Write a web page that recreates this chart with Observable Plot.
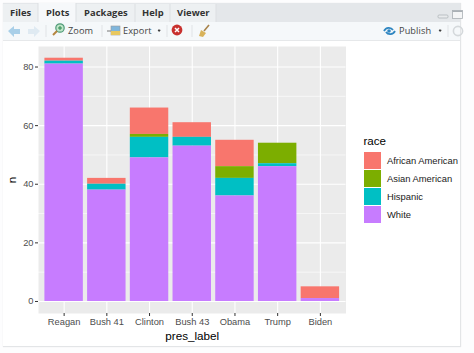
<!DOCTYPE html>
<html><head><meta charset="utf-8">
<script src="https://cdn.jsdelivr.net/npm/d3@7"></script>
<script src="https://cdn.jsdelivr.net/npm/@observablehq/plot@0.6"></script>
<style>
html,body{margin:0;padding:0;background:#fff}
#page{position:relative;width:474px;height:353px;overflow:hidden;font-family:"Liberation Sans",Arial,sans-serif;background:#fdfdfe}
#pane{position:absolute;left:3px;top:3px;width:457px;height:343px;background:#fff;border-right:1px solid #e3e5e7;border-bottom:1px solid #e3e5e7;box-shadow:0 0 1px #e3e5e7}
#chrome{position:absolute;left:0;top:0;width:474px;height:41px}
.t{position:absolute;white-space:nowrap;color:#333;font-family:"Open Sans",sans-serif;line-height:14px}
.b{font-weight:700;font-size:9.4px;letter-spacing:.05px}
.n{font-size:9.2px;font-weight:500;color:#444;letter-spacing:.1px}
#plot{position:absolute;left:0;top:40px}
#legend{position:absolute;left:363.5px;top:133px;color:#000}
#legend .h{font-size:11.6px;line-height:16px;height:18.7px}
#legend .r{display:flex;align-items:center;height:18px;font-size:9.4px;color:#1a1a1a}
#legend .s{width:17px;height:17px;margin-right:6.5px}
</style></head><body>
<div id="page">
<div id="pane"></div>
<svg id="chrome" viewBox="0 0 474 41">
  <rect x="3" y="3" width="457" height="19" fill="#e4e7ea"/>
  <rect x="3" y="4" width="213" height="18" fill="#edf0f2"/>
  <rect x="38" y="3" width="38" height="20" fill="#f6f8fa"/>
  <path d="M38 3V22M76 3V22M135 4V22M170 4V22M216 4V22" stroke="#dcdfe2" stroke-width="1"/>
  <rect x="3" y="22" width="457" height="18" fill="#f5f8fa"/>
  <rect x="3" y="40" width="457" height="1" fill="#e6e8ea"/>
  <path d="M8 31l6-5v3h6v5h-6v3z" fill="#a9cfe8"/>
  <path d="M40 31l-6-5v3h-6v5h6v3z" fill="#dfeaf2"/>
  <path d="M46 25V37M102 25V37M167 25V37M192 25V37M448 25V37" stroke="#e0e3e6"/>
  <circle cx="60" cy="28" r="4.2" fill="#bfe6c8" stroke="#4f9a78" stroke-width="1.2"/>
  <path d="M57 31l-4 4" stroke="#b5853f" stroke-width="2"/>
  <path d="M60 26v4M58 28h4" stroke="#2f8a50"/>
  <path d="M107 31h4" stroke="#777"/>
  <rect x="111" y="26" width="9" height="9" fill="#7fb6dc" stroke="#999" stroke-width=".6"/>
  <rect x="111" y="31" width="9" height="4" fill="#e8c860"/>
  <path d="M158 30l2.2 0-1.1 1.5z" fill="#333" stroke="#333" stroke-width=".8"/>
  <circle cx="177" cy="30" r="5.4" fill="#c8312f"/>
  <path d="M175 28l4 4M179 28l-4 4" stroke="#fff" stroke-width="1.5"/>
  <path d="M209 25l-5 6" stroke="#a8834a" stroke-width="1.6"/>
  <path d="M201 30l5 3-3 4-4-1z" fill="#d9b35a"/>
  <path d="M384 31c2-4 7-4 9-1M395 31c-2 4-7 4-9 1" stroke="#2f86c1" stroke-width="1.8" fill="none"/>
  <circle cx="389" cy="31" r="1.8" fill="#2f86c1"/>
  <path d="M439 30l2.2 0-1.1 1.5z" fill="#333" stroke="#333" stroke-width=".8"/>
  <circle cx="458" cy="31" r="4.6" fill="none" stroke="#d4d8db" stroke-width="1.6"/>
  <rect x="438" y="15" width="10" height="3" rx="1" fill="#e9ebed" stroke="#aab0b5" stroke-width=".7"/>
  <rect x="452.5" y="10.5" width="10" height="8" fill="#f4f5f6" stroke="#aab0b5" stroke-width=".8"/>
  <rect x="452.5" y="10.5" width="10" height="1.5" fill="#aab0b5"/>
</svg>
<span class="t b" style="left:10px;top:6px">Files</span>
<span class="t b" style="left:46px;top:6px">Plots</span>
<span class="t b" style="left:84px;top:6px">Packages</span>
<span class="t b" style="left:142px;top:6px">Help</span>
<span class="t b" style="left:177px;top:6px">Viewer</span>
<span class="t n" style="left:68px;top:24px">Zoom</span>
<span class="t n" style="left:123px;top:24px">Export</span>
<span class="t n" style="left:399px;top:24px">Publish</span>
<div id="plot"></div>
<div id="legend"></div>
</div>
<script>
const presidents = ["Reagan","Bush 41","Clinton","Bush 43","Obama","Trump","Biden"];
const races = ["African American","Asian American","Hispanic","White"];
const palette = ["#F8766D","#7CAE00","#00BFC4","#C77CFF"];
const africanAmerican = [1,2,9,5,9,0,4];
const asianAmerican   = [0,0,1,0,4,7,0];
const hispanic        = [1,2,7,3,6,1,0];
const white           = [81,38,49,53,36,46,1];
const yMajor = [0,20,40,60,80];
const yMinor = [10,30,50,70];

const seriesByRace = [africanAmerican, asianAmerican, hispanic, white];
const rows = races.flatMap((race,i)=>presidents.map((pres_label,j)=>({pres_label,race,n:seriesByRace[i][j]})));
const fontFamily = '"Liberation Sans",Arial,sans-serif';

const chart = Plot.plot({
  width: 461, height: 306,
  marginTop: 6, marginBottom: 33, marginLeft: 38, marginRight: 115.5,
  style: {background:"transparent", fontFamily},
  x: {domain: presidents, paddingInner: 0.1, paddingOuter: 0.15, round: false, axis: null, label: null},
  y: {domain: [-4.1, 87], axis: null, label: null},
  color: {domain: races, range: palette},
  marks: [
    Plot.frame({fill:"#ebebeb", stroke:"none"}),
    Plot.ruleY(yMinor, {stroke:"#fff", strokeWidth:0.6}),
    Plot.ruleY(yMajor, {stroke:"#fff", strokeWidth:1.1}),
    Plot.ruleX(presidents, {x:d=>d, stroke:"#fff", strokeWidth:1.1}),
    Plot.barY(rows.filter(d=>d.n>0), {x:"pres_label", y:"n", fill:"race", order:races.slice().reverse()}),
    Plot.axisX({anchor:"bottom", tickSize:3, tickPadding:2, fontSize:9.3, color:"#4d4d4d", stroke:"#333", label:null}),
    Plot.axisY(yMajor, {anchor:"left", tickSize:3, tickPadding:2, fontSize:9.3, color:"#4d4d4d", stroke:"#333", label:null}),
    Plot.axisX([], {anchor:"bottom", label:"pres_label", labelAnchor:"center", labelArrow:"none", labelOffset:26, fontSize:11.7, color:"#000"}),
    Plot.axisY([], {anchor:"left", label:"n", labelAnchor:"center", labelArrow:"none", labelOffset:31, fontSize:11.7, color:"#000"})
  ]
});
document.getElementById("plot").append(chart);

const legend = document.getElementById("legend");
const h = document.createElement("div"); h.className="h"; h.textContent="race"; legend.append(h);
races.forEach((r,i)=>{
  const row=document.createElement("div"); row.className="r";
  const s=document.createElement("div"); s.className="s"; s.style.background=palette[i];
  const l=document.createElement("span"); l.textContent=r;
  row.append(s,l); legend.append(row);
});
</script>
</body></html>
